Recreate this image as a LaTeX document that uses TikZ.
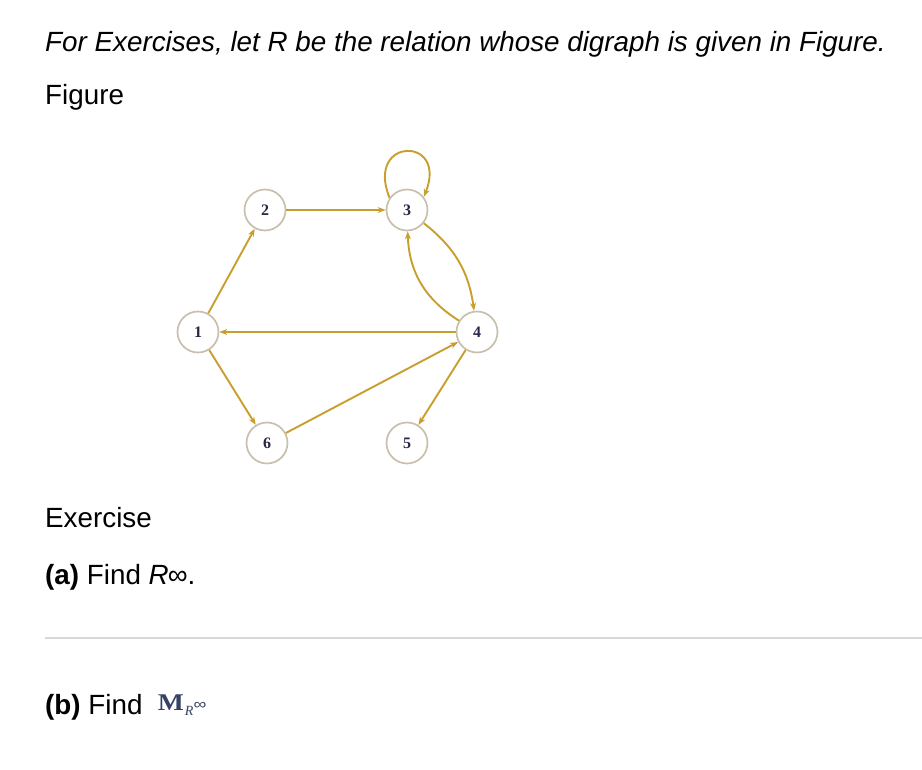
\documentclass[tikz,border=0pt]{standalone}
\usepackage{fontspec}
\setmainfont{Liberation Sans}
\newfontfamily\serifnum{Liberation Serif}
\usetikzlibrary{arrows.meta}
\definecolor{edgegold}{RGB}{200,158,45}
\definecolor{nodeline}{RGB}{200,192,172}
\definecolor{numcol}{RGB}{40,40,70}
\definecolor{mcol}{RGB}{55,65,100}
\definecolor{rulegray}{RGB}{215,215,215}
\tikzset{
  vert/.style={circle, draw=nodeline, line width=1.7pt, fill=white, minimum size=41pt, inner sep=0pt,
    font=\serifnum\bfseries\fontsize{16}{16}\selectfont, text=numcol},
  edge/.style={draw=edgegold, line width=1.9pt, -{Stealth[length=8pt,width=6pt]}},
  txt/.style={anchor=base west, inner sep=0pt, font=\fontsize{27.8}{30}\selectfont}
}
\begin{document}
\begin{tikzpicture}[x=1pt,y=1pt]
\useasboundingbox (0,0) rectangle (922,770);
% texts
\node[txt] (title) at (45,718) {\itshape For Exercises, let R be the relation whose digraph is given in Figure.};
\node[txt] (fig) at (45,665) {Figure};
\node[txt] (ex) at (45,242) {Exercise};
\node[txt] (qa) at (45,185) {\textbf{(a)} Find \textit{R}\kern-1pt∞.};
\node[txt] (qb) at (45,55) {\textbf{(b)} Find \ {\color{mcol}\raisebox{4pt}{\scalebox{1.15}[1]{\serifnum\bfseries\fontsize{24}{24}\selectfont M}}\kern1pt{\serifnum\fontsize{14}{14}\selectfont\raisebox{-1pt}{\textit{R}}}\raisebox{5pt}{\scalebox{1.2}[1]{\fontsize{15}{15}\selectfont ∞}}}};
\coordinate (rl) at (45,132);
\coordinate (rr) at (922,132);
\draw[rulegray, line width=1.4pt] (rl) -- (rr);
% vertices
\node[vert] (n1) at (198,438) {1};
\node[vert] (n2) at (265,560) {2};
\node[vert] (n3) at (407,560) {3};
\node[vert] (n4) at (477,438) {4};
\node[vert] (n6) at (267,327) {6};
\node[vert] (n5) at (407,327) {5};
% edges
\draw[edge] (n1) -- (n2);
\draw[edge] (n2) -- (n3);
\draw[edge] (n3.145) .. controls +(112:66) and +(68:66) .. (n3.38);
\draw[edge] (n3) to[bend left=22] (n4);
\draw[edge] (n4) to[bend left=28] (n3);
\draw[edge] (n4) -- (n1);
\draw[edge] (n1) -- (n6);
\draw[edge] (n6) -- (n4);
\draw[edge] (n4) -- (n5);
\end{tikzpicture}
\end{document}
